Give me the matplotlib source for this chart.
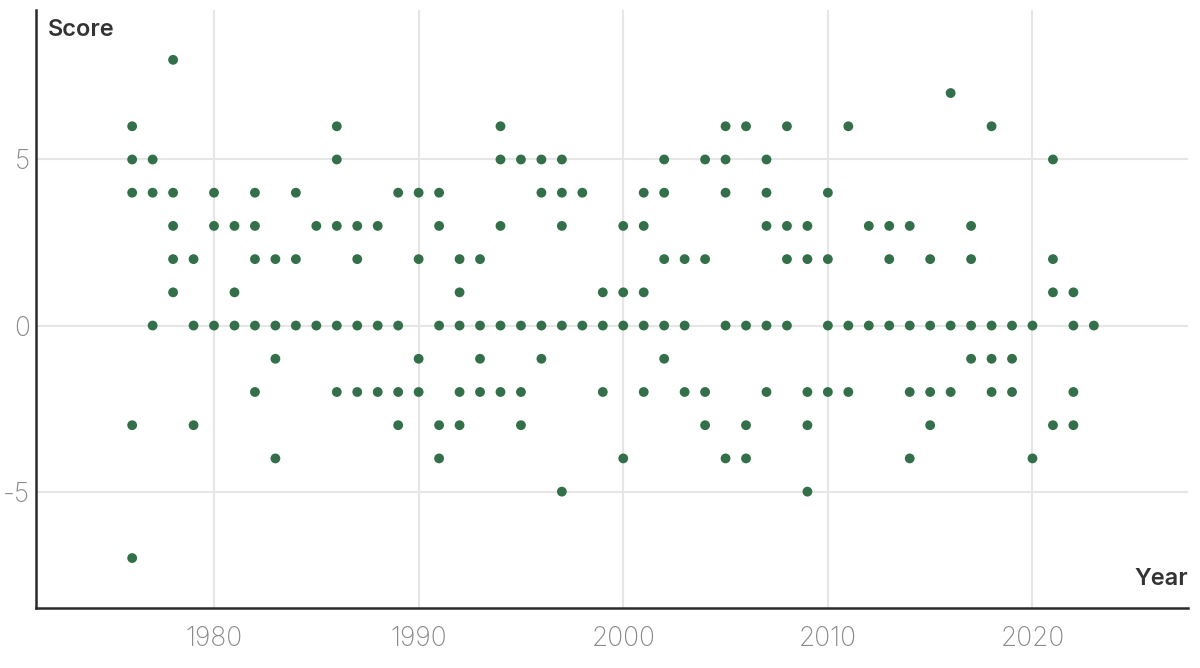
import matplotlib.pyplot as plt

# scores, grouped by year
years = [1976, 1977, 1978, 1979, 1980, 1981, 1982, 1983, 1984, 1985,
         1986, 1987, 1988, 1989, 1990, 1991, 1992, 1993, 1994, 1995,
         1996, 1997, 1998, 1999, 2000, 2001, 2002, 2003, 2004, 2005,
         2006, 2007, 2008, 2009, 2010, 2011, 2012, 2013, 2014, 2015,
         2016, 2017, 2018, 2019, 2020, 2021, 2022, 2023]
scores = [
    [6, 5, 4, -3, -7],
    [5, 4, 0],
    [8, 4, 3, 2, 1],
    [2, 0, -3],
    [4, 3, 0],
    [3, 1, 0],
    [4, 3, 2, 0, -2],
    [2, 0, -1, -4],
    [4, 2, 0],
    [3, 0],
    [6, 5, 3, 0, -2],
    [3, 2, 0, -2],
    [3, 0, -2],
    [4, 0, -2, -3],
    [4, 2, -1, -2],
    [4, 3, 0, -3, -4],
    [2, 1, 0, -2, -3],
    [2, 0, -1, -2],
    [6, 5, 3, 0, -2],
    [5, 0, -2, -3],
    [5, 4, 0, -1],
    [5, 4, 3, 0, -5],
    [4, 0],
    [1, 0, -2],
    [3, 1, 0, -4],
    [4, 3, 1, 0, -2],
    [5, 4, 2, 0, -1],
    [2, 0, -2],
    [5, 2, -2, -3],
    [6, 5, 4, 0, -4],
    [6, 0, -3, -4],
    [5, 4, 3, 0, -2],
    [6, 3, 2, 0],
    [3, 2, -2, -3, -5],
    [4, 2, 0, -2],
    [6, 0, -2],
    [3, 0],
    [3, 2, 0],
    [3, 0, -2, -4],
    [2, 0, -2, -3],
    [7, 0, -2],
    [3, 2, 0, -1],
    [6, 0, -1, -2],
    [0, -1, -2],
    [0, -4],
    [5, 2, 1, -3],
    [1, 0, -2, -3],
    [0],
]

xs = []
ys = []
for yr, vals in zip(years, scores):
    for v in vals:
        xs.append(yr)
        ys.append(v)

plt.rcParams['font.family'] = ['Inter', 'DejaVu Sans']

fig = plt.figure(figsize=(12, 6.68), dpi=100)
ax = fig.add_axes([0.03, 0.09, 0.96, 0.895])

ax.scatter(xs, ys, s=50, color='#33704a', edgecolors='none', zorder=3)

ax.set_xlim(1971.3, 2027.6)
ax.set_ylim(-8.5, 9.5)
ax.set_xticks([1980, 1990, 2000, 2010, 2020])
ax.set_yticks([-5, 0, 5])
ax.set_yticklabels(['-5', '0', '5'])

ax.grid(True, color='#e6e6e6', linewidth=1.5, zorder=0)
ax.set_axisbelow(True)
for s in ['top', 'right']:
    ax.spines[s].set_visible(False)
for s in ['left', 'bottom']:
    ax.spines[s].set_color('#2b2b2b')
    ax.spines[s].set_linewidth(1.8)

ax.tick_params(length=0, labelsize=19, labelcolor='#8a8a8a', pad=13)
ax.tick_params(axis='y', pad=4)
for lbl in ax.get_xticklabels() + ax.get_yticklabels():
    lbl.set_fontweight('light')

ax.text(0.01, 0.985, 'Score', transform=ax.transAxes, ha='left', va='top',
        fontsize=17, fontweight='semibold', color='#333333')
ax.text(1.0, 0.03, 'Year', transform=ax.transAxes, ha='right', va='bottom',
        fontsize=17, fontweight='semibold', color='#333333')

fig.savefig('out.png', dpi=100)
